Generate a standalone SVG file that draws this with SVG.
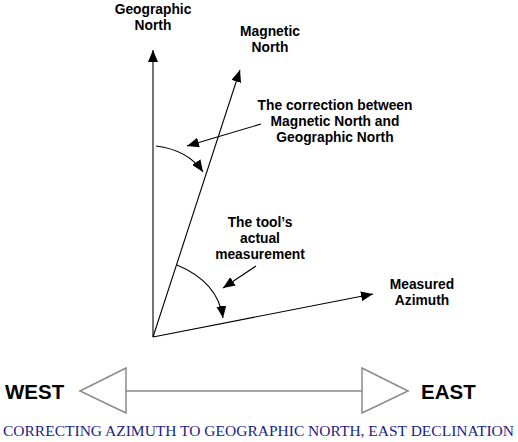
<svg xmlns="http://www.w3.org/2000/svg" width="518" height="442" viewBox="0 0 518 442">
<defs>
<style>
.lbl{font-family:"Liberation Sans",Arial,sans-serif;font-weight:bold;font-size:13.8px;fill:#000;text-anchor:middle}
.big{font-family:"Liberation Sans",Arial,sans-serif;font-weight:bold;font-size:20.5px;fill:#000}
.ln{stroke:#000;stroke-width:1.1;fill:none}
.gray{stroke:#8a8a8a;stroke-width:1.5;fill:#fff}
.cap{font-family:"Liberation Serif","Times New Roman",serif;font-size:14px;fill:#1c1c8a}
</style>
<marker id="ah" viewBox="0 0 12 10" refX="12" refY="5" markerWidth="12" markerHeight="10" markerUnits="userSpaceOnUse" orient="auto">
<path d="M0,0 L12,5 L0,10 Z" fill="#000"/>
</marker>
</defs>
<rect width="518" height="442" fill="#fff"/>
<g id="connectors">
<line class="ln" x1="153" y1="337" x2="153" y2="50" marker-end="url(#ah)"/>
<line class="ln" x1="153" y1="337" x2="240" y2="70" marker-end="url(#ah)"/>
<line class="ln" x1="153" y1="337" x2="373" y2="294" marker-end="url(#ah)"/>
<line class="ln" x1="261" y1="124" x2="187" y2="146" marker-end="url(#ah)"/>
<path class="ln" d="M156,146 Q188,150 203,172" marker-end="url(#ah)"/>
<line class="ln" x1="256" y1="266" x2="223" y2="288" marker-end="url(#ah)"/>
<path class="ln" d="M177,265 Q218,282 223,318" marker-end="url(#ah)"/>
</g>
<g id="geographic-north"><text class="lbl" x="153" y="14">Geographic</text><text class="lbl" x="153" y="30">North</text></g>
<g id="magnetic-north"><text class="lbl" x="270" y="36">Magnetic</text><text class="lbl" x="270" y="52">North</text></g>
<g id="correction"><text class="lbl" x="335" y="110">The correction between</text><text class="lbl" x="335" y="126">Magnetic North and</text><text class="lbl" x="335" y="142">Geographic North</text></g>
<g id="tool-measurement"><text class="lbl" x="260" y="227">The tool’s</text><text class="lbl" x="260" y="243">actual</text><text class="lbl" x="260" y="259">measurement</text></g>
<g id="measured-azimuth"><text class="lbl" x="422" y="289">Measured</text><text class="lbl" x="422" y="305">Azimuth</text></g>
<g id="west-east">
<line x1="126" y1="391" x2="362" y2="391" stroke="#8a8a8a" stroke-width="1.5"/>
<polygon class="gray" points="80,391 126,368 126,413"/>
<polygon class="gray" points="408,391 362,368 362,413"/>
<text class="big" x="5" y="399">WEST</text>
<text class="big" x="421" y="399">EAST</text>
</g>
<g id="caption"><text class="cap" x="3" y="436" textLength="511" lengthAdjust="spacingAndGlyphs">CORRECTING AZIMUTH TO GEOGRAPHIC NORTH, EAST DECLINATION</text></g>
</svg>
